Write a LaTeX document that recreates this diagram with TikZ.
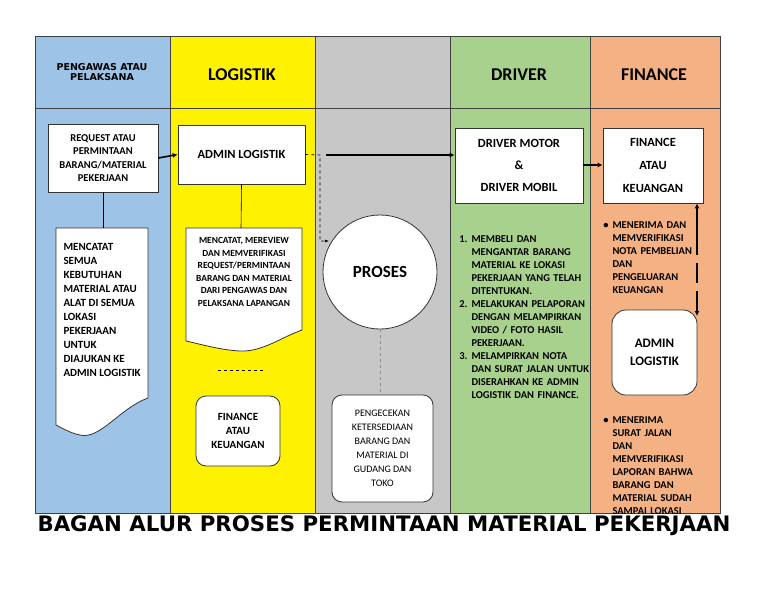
\documentclass[tikz,border=0pt]{standalone}
\usepackage{fontspec}
\setmainfont{Carlito}
\newfontfamily\dv{DejaVu Sans}
\usetikzlibrary{arrows.meta}
\begin{document}
\begin{tikzpicture}[x=1pt,y=-1pt,
  box/.style={draw=black!80,fill=white,line width=0.8pt,align=center,font=\bfseries\fontsize{10}{14}\selectfont},
  rbox/.style={box,rounded corners=10pt},
  hdr/.style={font=\bfseries\fontsize{18}{20}\selectfont},
  conn/.style={line width=0.6pt},
  arr/.style={line width=1.6pt,-{Latex[length=5pt,width=5pt]}},
  txt/.style={align=left,font=\bfseries\fontsize{10.5}{13}\selectfont,anchor=north west}]
\useasboundingbox (0,0) rectangle (768,594);
\fill[white] (0,0) rectangle (768,594);
\fill[fill={rgb,255:red,157;green,195;blue,230}] (35,36) rectangle (170,513);
\fill[yellow] (170,36) rectangle (315,513);
\fill[black!22] (315,36) rectangle (450,513);
\fill[fill={rgb,255:red,169;green,209;blue,142}] (450,36) rectangle (590,513);
\fill[fill={rgb,255:red,244;green,177;blue,131}] (590,36) rectangle (720,513);
\draw[black!75,line width=0.8pt] (35,36) rectangle (720,513) (35,108) -- (720,108)
 \foreach \x in {170,315,450,590}{(\x,36) -- (\x,513)};
\node[font=\dv\bfseries\fontsize{9.5}{10.5}\selectfont,align=center] (h1) at (102,72) {PENGAWAS ATAU\\PELAKSANA};
\node[hdr] (h2) at (242,75) {LOGISTIK};
\node[hdr] (h4) at (519,75) {DRIVER};
\node[hdr] (h5) at (654,75) {FINANCE};
% nodes
\node[box,minimum width=110,minimum height=68,font=\bfseries\fontsize{10.5}{13.5}\selectfont] (req) at (103,158) {REQUEST ATAU\\PERMINTAAN\\BARANG/MATERIAL\\PEKERJAAN};
\node[box,minimum width=127,minimum height=59,font=\bfseries\fontsize{12.5}{14}\selectfont] (adm) at (241.5,154.5) {ADMIN LOGISTIK};
\draw[draw=black!80,fill=white,line width=0.8pt] (56,228) -- (148,228) -- (148,398) .. controls (120,408) and (100,440) .. (80,435) .. controls (70,433) and (62,428) .. (56,425) -- cycle;
\node[txt,font=\bfseries\fontsize{11}{14}\selectfont] (d1) at (60,240) {MENCATAT\\SEMUA\\KEBUTUHAN\\MATERIAL ATAU\\ALAT DI SEMUA\\LOKASI\\PEKERJAAN\\UNTUK\\DIAJUKAN KE\\ADMIN LOGISTIK};
\coordinate (d1t) at (103,228);
\draw[draw=black!80,fill=white,line width=0.8pt] (186,228) -- (302,228) -- (302,330) .. controls (280,338) and (262,352) .. (240,351) .. controls (220,350) and (200,344) .. (186,341) -- cycle;
\node[font=\bfseries\fontsize{9.4}{12.5}\selectfont,align=center] (d2) at (244,272) {MENCATAT, MEREVIEW\\DAN MEMVERIFIKASI\\REQUEST/PERMINTAAN\\BARANG DAN MATERIAL\\DARI PENGAWAS DAN\\PELAKSANA LAPANGAN};
\coordinate (d2t) at (241,228);
\draw[conn] (req.south) -- (d1t);
\draw[conn] (adm.south) -- (d2t);
\coordinate (s1) at (218,370); \coordinate (s2) at (266,370);
\draw[conn,dashed] (s1) -- (s2);
\node[rbox,minimum width=84,minimum height=70,font=\bfseries\fontsize{11}{14}\selectfont] (fin1) at (238,431) {FINANCE\\ATAU\\KEUANGAN};
\node[circle,draw=black!80,fill=white,line width=0.8pt,minimum size=114,font=\bfseries\fontsize{17}{19}\selectfont] (pro) at (380,272) {PROSES};
\node[rbox,minimum width=101,minimum height=107,font=\fontsize{10}{14}\selectfont] (cek) at (382.5,448.5) {PENGECEKAN\\KETERSEDIAAN\\BARANG DAN\\MATERIAL DI\\GUDANG DAN\\TOKO};
\draw[black!45,dashed,line width=0.8pt] (pro.south) -- (cek.north -| pro.south);
\node[box,minimum width=128,minimum height=75,font=\bfseries\fontsize{12.5}{14}\selectfont] (drv) at (519,165.5) {DRIVER MOTOR\\[8pt]\&\\[8pt]DRIVER MOBIL};
\node[box,minimum width=100,minimum height=75,font=\bfseries\fontsize{12.5}{14}\selectfont] (fin2) at (653,165.5) {FINANCE\\[9pt]ATAU\\[9pt]KEUANGAN};
\node[rbox,minimum width=85,minimum height=85,font=\bfseries\fontsize{13}{18}\selectfont,rounded corners=14pt] (adm2) at (654.5,352.5) {ADMIN\\LOGISTIK};
% connectors
\draw[arr] (req.east) -- (adm.west);
\coordinate (j) at (320,155);
\coordinate (k) at (320,241);
\coordinate (ke) at (329,241);
\draw[conn,dashed,-{Latex[length=4pt]}] (adm.east) -- (j) -- (k) -- (ke);
\draw[arr] (326,155) -- (drv.west|-0,155);
\draw[arr] (drv.east|-0,165) -- (fin2.west|-0,165);
\coordinate (m) at (697,235);
\draw[line width=1.6pt,-{Latex[length=5pt,width=5pt]}] (m) -- (fin2.south-|m);
\draw[line width=1.6pt,dash pattern=on 20pt off 8pt,-{Latex[length=5pt,width=5pt]}] (m) -- (697,316);
% text
\node[txt,text width=134] (dl) at (452,226) {\begin{list}{}{\leftmargin=16pt\labelwidth=12pt\labelsep=4pt\itemsep=0pt\parsep=0pt\topsep=0pt}
\item[1.] MEMBELI DAN MENGANTAR BARANG MATERIAL KE LOKASI PEKERJAAN YANG TELAH DITENTUKAN.
\item[2.] MELAKUKAN PELAPORAN DENGAN MELAMPIRKAN VIDEO / FOTO HASIL PEKERJAAN.
\item[3.] MELAMPIRKAN NOTA DAN SURAT JALAN UNTUK DISERAHKAN KE ADMIN LOGISTIK DAN FINANCE.
\end{list}};
\node[txt,text width=94] (b1) at (597,212) {\begin{list}{}{\leftmargin=12pt\labelwidth=8pt\labelsep=4pt\itemsep=0pt\parsep=0pt\topsep=0pt}
\item[\textbullet] MENERIMA DAN MEMVERIFIKASI NOTA PEMBELIAN DAN PENGELUARAN KEUANGAN
\end{list}};
\node[txt,text width=94] (b2) at (597,407) {\begin{list}{}{\leftmargin=12pt\labelwidth=8pt\labelsep=4pt\itemsep=0pt\parsep=0pt\topsep=0pt}
\item[\textbullet] MENERIMA SURAT JALAN DAN MEMVERIFIKASI LAPORAN BAHWA BARANG DAN MATERIAL SUDAH SAMPAI LOKASI
\end{list}};
\node[font=\dv\bfseries\fontsize{21.3}{23}\selectfont] (title) at (384,526) {BAGAN ALUR PROSES PERMINTAAN MATERIAL PEKERJAAN};
\end{tikzpicture}
\end{document}
